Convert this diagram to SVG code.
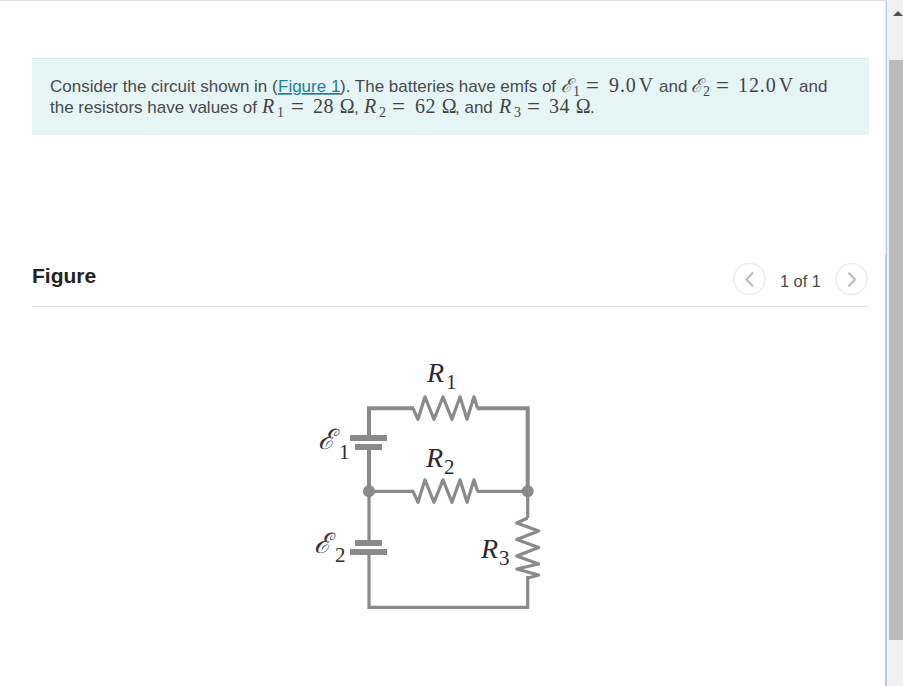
<svg xmlns="http://www.w3.org/2000/svg" width="903" height="686" viewBox="0 0 903 686">
<style>
.t{font:17px "Liberation Sans",Arial,sans-serif;fill:#4a4a4a}
.m{font:20px "Liberation Serif","Times New Roman",serif;fill:#444}
.q{font-size:23px}
.i{font-style:italic}
.f{font-size:19px}
.v{letter-spacing:.9px;word-spacing:-3.500px}
.s{font-size:14px;font-style:normal}
.c{font:italic 28px "Liberation Serif","Times New Roman",serif;fill:#2b2b2b}
.cs{font:21px "Liberation Serif","Times New Roman",serif;fill:#2b2b2b}
.e{font:italic 28px "DejaVu Serif","Liberation Serif",serif;fill:#333}
.w{fill:none;stroke:#8a8a8a;stroke-linejoin:miter}
.b{fill:none;stroke:#8a8a8a;stroke-width:3.2;stroke-linejoin:round}
.p{fill:#8a8a8a}
.btn{fill:#fff;stroke:#ececec;stroke-width:1.5}
.ch{fill:none;stroke:#bdbdbd;stroke-width:2.2}
</style>
<rect width="903" height="686" fill="#fff"/>
<rect x="0" y="0" width="886" height="1" fill="#dedede"/>
<g id="prompt">
<rect x="32" y="58" width="837" height="77" fill="#e5f5f6"/>
<rect x="32" y="58" width="837" height="1" fill="#d5e6e8"/>
<text class="t" x="50" y="92">Consider the circuit shown in (</text>
<text class="t" x="278" y="92" style="fill:#1d7f9f" text-decoration="underline">Figure 1</text>
<text class="t" x="340" y="92">). The batteries have emfs of</text>
<text class="m i f" x="561" y="92">ℰ<tspan class="s" x="573" dy="4">1</tspan></text>
<text class="m q" x="586" y="93">=</text><text class="m v" x="609" y="92">9.0 V</text>
<text class="t" x="659" y="92">and</text>
<text class="m i f" x="691" y="92">ℰ<tspan class="s" x="703" dy="4">2</tspan></text>
<text class="m q" x="716" y="93">=</text><text class="m v" x="738" y="92">12.0 V</text>
<text class="t" x="799" y="92">and</text>
<text class="t" x="50" y="113">the resistors have values of</text>
<text class="m i" x="262" y="113">R</text><text class="m s" x="277" y="117">1</text>
<text class="m q" x="291" y="114">=</text><text class="m" x="313" y="113" style="letter-spacing:.6px">28 Ω</text>
<text class="t" x="354" y="113">,</text>
<text class="m i" x="364" y="113">R</text><text class="m s" x="379" y="117">2</text>
<text class="m q" x="392" y="114">=</text><text class="m" x="415" y="113" style="letter-spacing:.6px">62 Ω</text>
<text class="t" x="455" y="113">, and</text>
<text class="m i" x="499" y="113">R</text><text class="m s" x="514" y="117">3</text>
<text class="m q" x="527" y="114">=</text><text class="m" x="549" y="113" style="letter-spacing:.6px">34 Ω</text>
<text class="t" x="590" y="113">.</text>
</g>
<g id="figure-header">
<text x="32" y="283" style="font:bold 21px 'Liberation Sans',Arial,sans-serif;fill:#222">Figure</text>
<rect x="32" y="306" width="837" height="1" fill="#e0e0e0"/>
<circle class="btn" cx="749.500" cy="279" r="15.500"/>
<path class="ch" d="M753 272.500l-6.500 7 6.500 7"/>
<text class="t" x="780" y="287" style="font-size:16.300px">1 of 1</text>
<circle class="btn" cx="851.500" cy="279" r="15.500"/>
<path class="ch" d="M848.500 272.500l6.500 7-6.500 7"/>
</g>
<g id="connectors">
<path class="w" stroke-width="4" d="M414 408.300H369V438M369 447V491.300M477 408.300H527.700V491.300"/>
<path class="w" stroke-width="3.200" d="M369 491.300H414M477 491.300H527.700V518M369 491.300V543M369 552V607.300H527.700V576"/>
</g>
<g id="R1">
<path class="b" d="M413 408.300l5 11 7-22.500 9 22.500 9-22.500 9 22.500 8-22.500 7 22.500 7-22.500 3.500 11.500"/>
<text class="c" x="427" y="382">R</text><text class="cs" x="446" y="389">1</text>
</g>
<g id="R2">
<path class="b" d="M413 491.300l5 11 7-22.500 9 22.500 9-22.500 9 22.500 8-22.500 7 22.500 7-22.500 3.500 11.500"/>
<text class="c" x="426" y="467">R</text><text class="cs" x="444" y="474">2</text>
</g>
<g id="R3">
<path class="b" d="M527.700 518l-11 5 22 8-22 8.500 22 8-22 8.500 22 8-22 5 22 6-11 3"/>
<text class="c" x="481" y="558">R</text><text class="cs" x="499" y="565">3</text>
</g>
<g id="E1">
<rect class="p" x="350" y="435" width="37" height="6"/>
<rect class="p" x="355" y="444" width="27" height="6"/>
<text class="e" x="318" y="449">ℰ</text><text class="cs" x="339" y="459">1</text>
</g>
<g id="E2">
<rect class="p" x="355" y="540" width="27" height="6"/>
<rect class="p" x="350" y="549" width="37" height="6"/>
<text class="e" x="314" y="553">ℰ</text><text class="cs" x="335" y="562">2</text>
</g>
<g id="junction-left"><circle class="p" cx="369" cy="491.300" r="6"/></g>
<g id="junction-right"><circle class="p" cx="527.700" cy="491.300" r="6"/></g>
<g id="scrollbar">
<rect x="887" y="0" width="16" height="686" fill="#f0f0f0"/>
<rect x="885.500" y="0" width="1.500" height="686" fill="#c3d0e0"/>
<rect x="885" y="255" width="2" height="431" fill="#b9c9dd"/>
<rect x="889" y="60" width="14" height="580" fill="#bbb"/>
<path d="M893 16l5-5 5 5z" fill="#505050"/>
</g>
</svg>
